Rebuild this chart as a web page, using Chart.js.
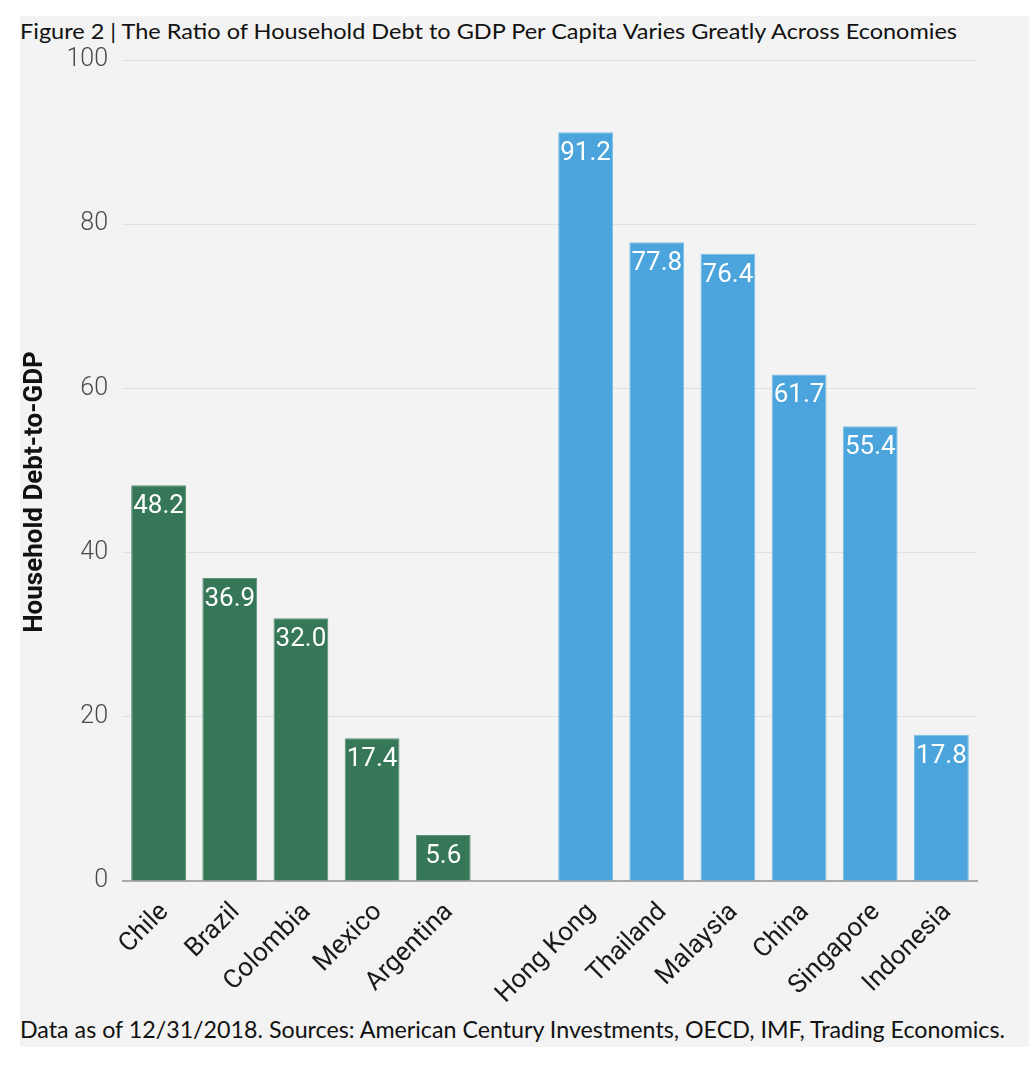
<!DOCTYPE html>
<html>
<head>
<meta charset="utf-8">
<title>Household Debt to GDP</title>
<script src="https://cdn.jsdelivr.net/npm/chart.js@4.4.1/dist/chart.umd.min.js"></script>
<style>
    body { margin: 0; background: #fff; width: 1029px; height: 1073px; position: relative; overflow: hidden; }
    #panel { position: absolute; left: 20px; top: 16px; width: 1009px; height: 1031px; background: #f2f3f2; }
    .note { position: absolute; left: 20px; font-family: Lato, "Open Sans", sans-serif; color: #111; white-space: nowrap; transform-origin: 0 0; }
    #title { top: 17px; font-size: 22px; }
    #footer { top: 1014px; font-size: 24px; }
    #chart { position: absolute; left: 20px; top: 30px; }
</style>
</head>
<body>
<div id="panel"></div>
<div id="title" class="note" data-width="937">Figure 2 | The Ratio of Household Debt to GDP Per Capita Varies Greatly Across Economies</div>
<canvas id="chart" width="1009" height="980"></canvas>
<div id="footer" class="note" data-width="985">Data as of 12/31/2018. Sources: American Century Investments, OECD, IMF, Trading Economics.</div>
<script>
// categories (blank entry is the gap between the two groups)
const countries = ['Chile', 'Brazil', 'Colombia', 'Mexico', 'Argentina', '',
    'Hong Kong', 'Thailand', 'Malaysia', 'China', 'Singapore', 'Indonesia'];
const debtToGdp = [48.2, 36.9, 32.0, 17.4, 5.6, null, 91.2, 77.8, 76.4, 61.7, 55.4, 17.8];
const region = ['latam', 'latam', 'latam', 'latam', 'latam', null,
    'asia', 'asia', 'asia', 'asia', 'asia', 'asia'];
const yTicks = [0, 20, 40, 60, 80, 100];

const fill = { latam: '#357757', asia: '#4ba5dc' };
const edge = { latam: '#5a9477', asia: '#7bbde6' };

// squeeze the html notes to the width they take in the figure
document.querySelectorAll('.note').forEach(el => {
    const w = el.getBoundingClientRect().width;
    el.style.transform = 'scaleX(' + (el.dataset.width / w) + ')';
});

const valueLabels = {
    id: 'valueLabels',
    afterDatasetsDraw(chart) {
        const ctx = chart.ctx;
        const meta = chart.getDatasetMeta(0);
        ctx.save();
        ctx.fillStyle = '#ffffff';
        ctx.font = '26px Roboto';
        ctx.textAlign = 'center';
        ctx.textBaseline = 'alphabetic';
        meta.data.forEach((bar, i) => {
            if (debtToGdp[i] == null) return;
            ctx.fillText(debtToGdp[i].toFixed(1), bar.x, bar.y + 28);
        });
        // y axis title
        ctx.fillStyle = '#111';
        ctx.font = 'bold 26px Roboto';
        ctx.translate(15, 462);
        ctx.rotate(-Math.PI / 2);
        ctx.textBaseline = 'middle';
        ctx.fillText('Household Debt-to-GDP', 0, 0);
        ctx.restore();
    }
};

new Chart(document.getElementById('chart'), {
    type: 'bar',
    data: {
        labels: countries,
        datasets: [{
            data: debtToGdp,
            backgroundColor: region.map(r => r ? fill[r] : 'transparent'),
            borderColor: region.map(r => r ? edge[r] : 'transparent'),
            borderWidth: 1,
            barPercentage: 0.77,
            categoryPercentage: 1
        }]
    },
    options: {
        responsive: false,
        animation: false,
        devicePixelRatio: 1,
        layout: { padding: { top: 19, right: 52, left: 0, bottom: 0 } },
        plugins: { legend: { display: false }, tooltip: { enabled: false } },
        scales: {
            x: {
                grid: { display: false },
                border: { display: true, color: '#aaaaaa', width: 2 },
                ticks: {
                    autoSkip: false, minRotation: 45, maxRotation: 45, padding: 8, labelOffset: 6,
                    color: '#1a1a1a', font: { family: 'Roboto', size: 26 }
                },
                afterFit(s) { s.height = 129; }
            },
            y: {
                min: 0, max: 100,
                afterBuildTicks(s) { s.ticks = yTicks.map(v => ({ value: v })); },
                grid: { color: '#dfe1e3', drawTicks: false },
                border: { display: false },
                ticks: {
                    padding: 15, color: '#4a4a4a',
                    font: { family: 'Roboto', size: 25, weight: 300 }
                },
                afterFit(s) { s.width = 103; }
            }
        }
    },
    plugins: [valueLabels]
});
</script>
</body>
</html>
